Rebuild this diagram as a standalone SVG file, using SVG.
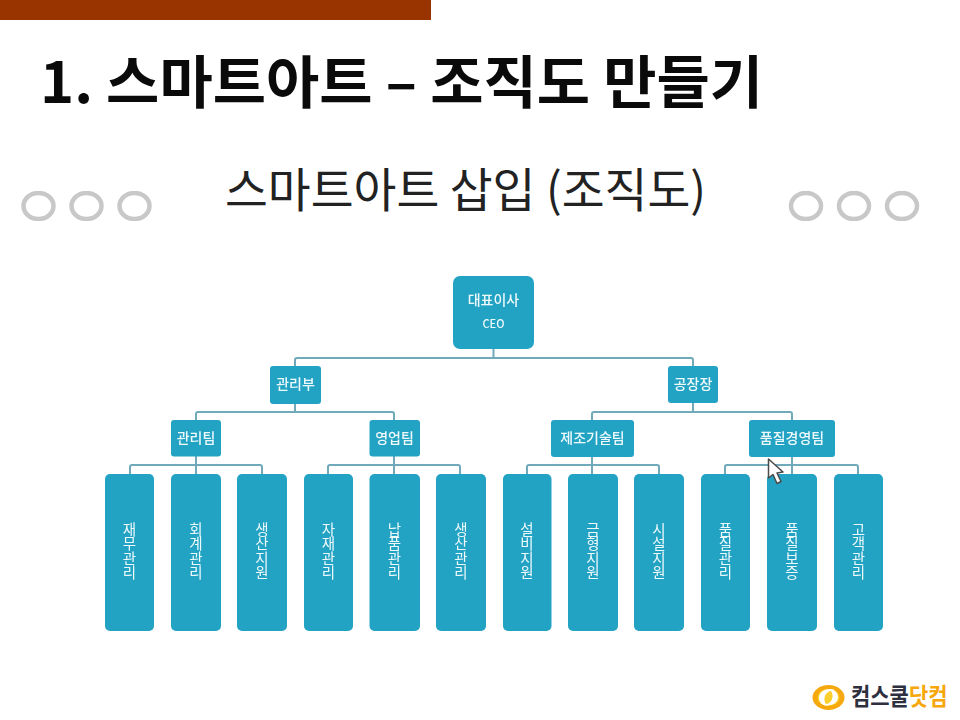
<svg xmlns="http://www.w3.org/2000/svg" width="960" height="720" viewBox="0 0 960 720">
<style>
text{font-family:"Noto Sans CJK KR","Noto Sans",sans-serif}
.n{fill:#23a3c3}
.t{fill:#eef9fc;font-size:14px;text-anchor:middle;font-weight:500}
.s{fill:#eef9fc;font-size:11px;text-anchor:middle;font-weight:500}
.v{fill:#eef9fc;font-size:14.500px;text-anchor:middle;writing-mode:vertical-rl;font-weight:400}
.c{fill:none;stroke:#6fa9b9;stroke-width:2;stroke-linejoin:round}
.r{fill:none;stroke:#c8c8c8;stroke-width:4.500}
</style>
<defs>
<filter id="b" x="-5%" y="-5%" width="110%" height="110%"><feGaussianBlur stdDeviation="0.4"/></filter>
<filter id="b2" x="-5%" y="-5%" width="110%" height="110%"><feGaussianBlur stdDeviation="0.5"/></filter>
</defs>
<rect width="960" height="720" fill="#fff"/>
<rect x="0" y="0" width="431" height="20" fill="#993300"/>
<text x="40" y="103" font-size="57" font-weight="700" fill="#0a0a0a" textLength="723" lengthAdjust="spacingAndGlyphs">1. 스마트아트 – 조직도 만들기</text>
<text x="225" y="207" font-size="47" fill="#222" font-weight="400" textLength="481" lengthAdjust="spacingAndGlyphs">스마트아트 삽입 (조직도)</text>
<g id="rings" filter="url(#b2)">
<ellipse class="r" cx="38.500" cy="206" rx="15" ry="13"/><ellipse class="r" cx="86.500" cy="206" rx="15" ry="13"/><ellipse class="r" cx="134.500" cy="206" rx="15" ry="13"/>
<ellipse class="r" cx="806" cy="206" rx="15" ry="13"/><ellipse class="r" cx="854" cy="206" rx="15" ry="13"/><ellipse class="r" cx="902" cy="206" rx="15" ry="13"/>
</g>
<g filter="url(#b)">
<g id="connectors">
<path class="c" d="M493.500 349V358M295 366V360Q295 358 297 358H691Q693 358 693 360V366"/>
<path class="c" d="M295 404V412M196 420V414Q196 412 198 412H392Q394 412 394 414V420"/>
<path class="c" d="M693 403V412M592 420V414Q592 412 594 412H790Q792 412 792 414V420"/>
<path class="c" d="M196 456V465M130 474V467Q130 465 132 465H260Q262 465 262 467V474M196 465V474"/>
<path class="c" d="M394 456V465M328 474V467Q328 465 330 465H458Q460 465 460 467V474M394 465V474"/>
<path class="c" d="M592 457V465M527 474V467Q527 465 529 465H657Q659 465 659 467V474M592 465V474"/>
<path class="c" d="M792 457V465M725 474V467Q725 465 727 465H856Q858 465 858 467V474M792 465V474"/>
</g>
<g id="ceo"><rect class="n" x="453" y="276" width="81" height="73" rx="7"/><text class="t" x="493.500" y="305">대표이사</text><text class="s" x="493.500" y="328">CEO</text></g>
<g id="mgmt-dept"><rect class="n" x="270" y="366" width="51" height="38" rx="3"/><text class="t" x="295.500" y="389">관리부</text></g>
<g id="factory"><rect class="n" x="668" y="366" width="50" height="37" rx="3"/><text class="t" x="693" y="389">공장장</text></g>
<g id="mgmt-team"><rect class="n" x="171" y="420" width="50" height="36.500" rx="3"/><text class="t" x="196" y="443">관리팀</text></g>
<g id="sales-team"><rect class="n" x="369.500" y="420" width="50.500" height="36.500" rx="3"/><text class="t" x="394.500" y="443">영업팀</text></g>
<g id="mfg-team"><rect class="n" x="551" y="420" width="83" height="37" rx="3"/><text class="t" x="592.500" y="443">제조기술팀</text></g>
<g id="quality-team"><rect class="n" x="749" y="420" width="86" height="37" rx="3"/><text class="t" x="792" y="443">품질경영팀</text></g>
<g id="leaf1"><rect class="n" x="105" y="474" width="49" height="157" rx="5"/><text class="v" x="129.500" y="551">재무관리</text></g>
<g id="leaf2"><rect class="n" x="171" y="474" width="50" height="157" rx="5"/><text class="v" x="196" y="551">회계관리</text></g>
<g id="leaf3"><rect class="n" x="237" y="474" width="50" height="157" rx="5"/><text class="v" x="262" y="551">생산지원</text></g>
<g id="leaf4"><rect class="n" x="304" y="474" width="49" height="157" rx="5"/><text class="v" x="328.500" y="551">자재관리</text></g>
<g id="leaf5"><rect class="n" x="369.500" y="474" width="50.500" height="157" rx="5"/><text class="v" x="394.500" y="551">납품관리</text></g>
<g id="leaf6"><rect class="n" x="436" y="474" width="50" height="157" rx="5"/><text class="v" x="461" y="551">생산관리</text></g>
<g id="leaf7"><rect class="n" x="503" y="474" width="48.500" height="157" rx="5"/><text class="v" x="527" y="551">설비지원</text></g>
<g id="leaf8"><rect class="n" x="568" y="474" width="50" height="157" rx="5"/><text class="v" x="593" y="551">금형지원</text></g>
<g id="leaf9"><rect class="n" x="634" y="474" width="50" height="157" rx="5"/><text class="v" x="659" y="551">시설지원</text></g>
<g id="leaf10"><rect class="n" x="701" y="474" width="49" height="157" rx="5"/><text class="v" x="725.500" y="551">품질관리</text></g>
<g id="leaf11"><rect class="n" x="767" y="474" width="50" height="157" rx="5"/><text class="v" x="792" y="551">품질보증</text></g>
<g id="leaf12"><rect class="n" x="834" y="474" width="49" height="157" rx="5"/><text class="v" x="858.500" y="551">고객관리</text></g>
</g>
<path id="cursor" d="M768.500 459V478L773 474.500L777 483.500L781 481.500L777 473L783 472Z" fill="#fff" stroke="#4a4a4a" stroke-width="1.500" stroke-linejoin="round"/>
<g id="logo">
<ellipse cx="828.500" cy="697.500" rx="16" ry="12.500" fill="#f6a80f"/>
<ellipse cx="828.500" cy="697.500" rx="11" ry="8.500" fill="#fbd02e"/>
<path d="M819 698C819 691 827 687 835 690C830 690 825 693 824.500 698C824 702 826 705 829 706C823 706 819 703 819 698Z" fill="#fff"/>
<path d="M838 697C838 703 831 707 823 704.500C828 704.500 832 702 832.500 697C833 693 831 690 828 689C834 689 838 692 838 697Z" fill="#fff"/>
<text transform="translate(851 705) scale(1 1.120)" font-size="21" font-weight="700" fill="#2e3040">컴스쿨</text>
<text transform="translate(909 705) scale(1 1.120)" font-size="21" font-weight="700" fill="#f5a70c">닷컴</text>
</g>
</svg>
